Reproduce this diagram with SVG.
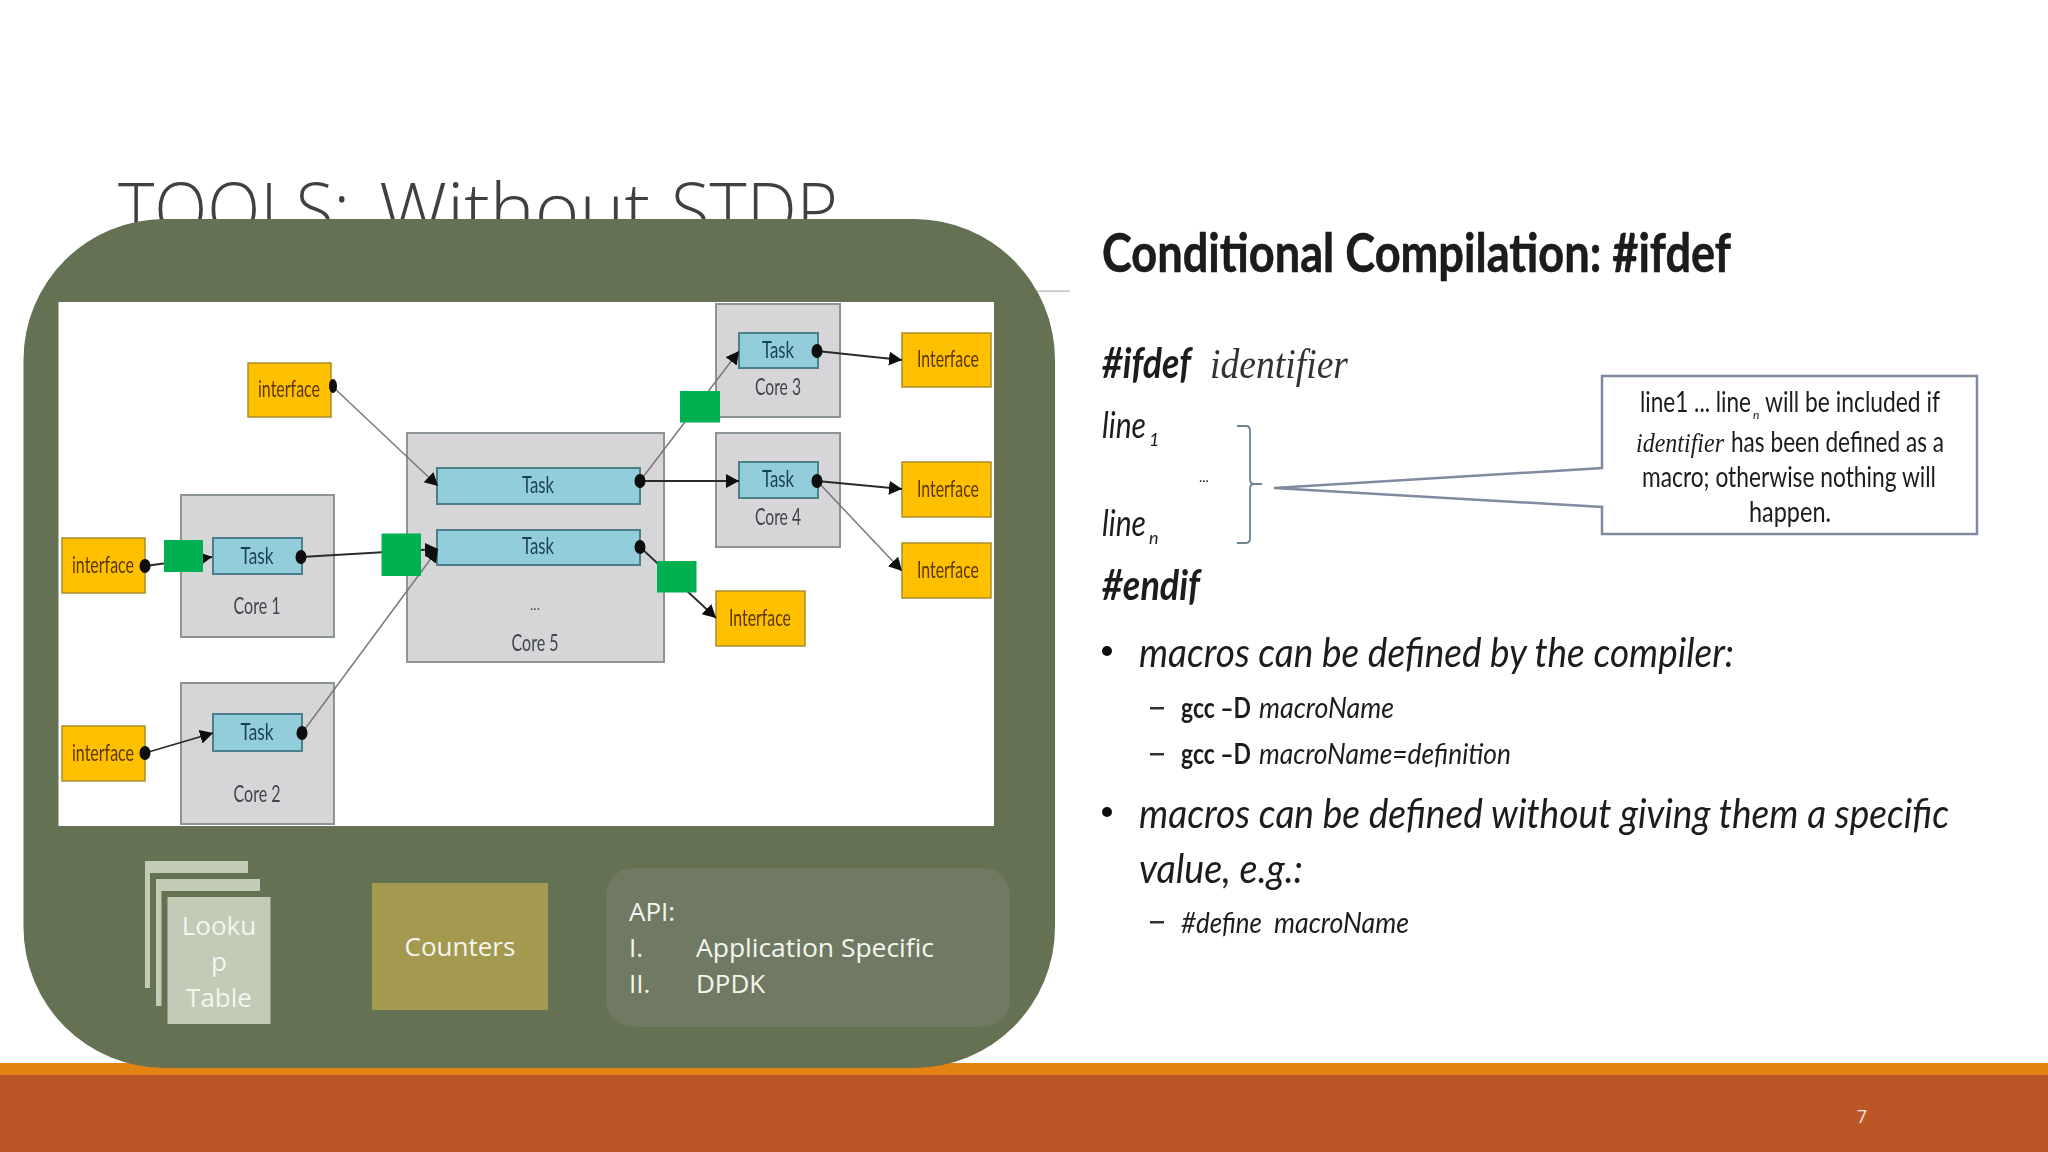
<svg xmlns="http://www.w3.org/2000/svg" width="2048" height="1152" viewBox="0 0 2048 1152">
<style>
.core{fill:#d6d6d8;stroke:#8c9496;stroke-width:2}
.task{fill:#92cddc;stroke:#4d7f8a;stroke-width:2}
.intf{fill:#ffc000;stroke:#a88e2e;stroke-width:1.5}
.green{fill:#00b050}
.d{font-family:"Lato","Liberation Sans",sans-serif;font-size:23px;text-anchor:middle}
.tt{fill:#173f52}.ti{fill:#5a3500}.tc{fill:#404548}
.c1{fill:none;stroke:#2a2a2a;stroke-width:1.8;marker-end:url(#arr)}
.c2{fill:none;stroke:#77797b;stroke-width:1.5;marker-end:url(#arr)}
.dot{fill:#080808}
.card{fill:#c2cbb6;stroke:#657153;stroke-width:12;paint-order:stroke}
.w{font-family:"Open Sans","Noto Sans",sans-serif;font-size:26px;fill:#f4f5ef}
.m{text-anchor:middle}
.r{font-family:"Lato","Liberation Sans",sans-serif;fill:#1b1b1b}
.i{font-style:italic}
.b{font-weight:700}
.s{font-family:"Liberation Serif",serif;font-style:italic}
.t{font-family:"Open Sans","Noto Sans",sans-serif;font-weight:300;font-size:74px;fill:#404040}
</style>
<defs>
<marker id="arr" markerUnits="userSpaceOnUse" markerWidth="16" markerHeight="16" refX="13" refY="7" orient="auto"><path d="M0 0L13 7L0 14Z" fill="#0a0a0a"/></marker>
<filter id="soft" x="-2%" y="-2%" width="104%" height="104%"><feGaussianBlur stdDeviation="0.6"/></filter>
</defs>
<rect width="2048" height="1152" fill="#fff"/>
<g id="title">
<text class="t" x="118" y="236" textLength="232" lengthAdjust="spacingAndGlyphs">TOOLS:</text>
<text class="t" x="379" y="236" textLength="271" lengthAdjust="spacingAndGlyphs">Without</text>
<text class="t" x="671" y="236" textLength="167" lengthAdjust="spacingAndGlyphs">STDP</text>
</g>
<rect x="118" y="290.500" width="952" height="1.200" fill="#b4b4b4"/>
<rect x="0" y="1063" width="2048" height="12" fill="#e48312"/>
<rect x="0" y="1075" width="2048" height="77" fill="#bb5726"/>
<text x="1862" y="1123" text-anchor="middle" font-family="'Open Sans',sans-serif" font-size="18" fill="#f5e9e0">7</text>
<rect id="panel" x="23.500" y="219" width="1031.500" height="849" rx="141" ry="141" fill="#657153"/>
<g id="figure" filter="url(#soft)">
<rect x="58.500" y="302" width="935.500" height="524" fill="#fff"/>
<g id="core1"><rect class="core" x="181" y="495" width="153" height="142"/><rect class="task" x="213" y="538" width="89" height="36"/><text class="d tt" x="257" y="564" textLength="33" lengthAdjust="spacingAndGlyphs">Task</text><text class="d tc" x="257" y="614" textLength="47" lengthAdjust="spacingAndGlyphs">Core 1</text></g>
<g id="core2"><rect class="core" x="181" y="683" width="153" height="141"/><rect class="task" x="213" y="714" width="89" height="37"/><text class="d tt" x="257" y="740" textLength="33" lengthAdjust="spacingAndGlyphs">Task</text><text class="d tc" x="257" y="802" textLength="47" lengthAdjust="spacingAndGlyphs">Core 2</text></g>
<g id="core3"><rect class="core" x="716" y="304" width="124" height="113"/><rect class="task" x="739" y="333" width="79" height="35"/><text class="d tt" x="778" y="358" textLength="32" lengthAdjust="spacingAndGlyphs">Task</text><text class="d tc" x="778" y="395" textLength="46" lengthAdjust="spacingAndGlyphs">Core 3</text></g>
<g id="core4"><rect class="core" x="716" y="433" width="124" height="114"/><rect class="task" x="739" y="462" width="79" height="36"/><text class="d tt" x="778" y="487" textLength="32" lengthAdjust="spacingAndGlyphs">Task</text><text class="d tc" x="778" y="525" textLength="46" lengthAdjust="spacingAndGlyphs">Core 4</text></g>
<g id="core5"><rect class="core" x="407" y="433" width="257" height="229"/><rect class="task" x="437" y="468" width="203" height="36"/><text class="d tt" x="538" y="493" textLength="32" lengthAdjust="spacingAndGlyphs">Task</text><rect class="task" x="437" y="530" width="203" height="35"/><text class="d tt" x="538" y="554" textLength="32" lengthAdjust="spacingAndGlyphs">Task</text><text class="d tc" x="535" y="610" style="font-size:14px">...</text><text class="d tc" x="535" y="651" textLength="47" lengthAdjust="spacingAndGlyphs">Core 5</text></g>
<g id="interface-a"><rect class="intf" x="248" y="363" width="83" height="54"/><text class="d ti" x="289" y="397" textLength="62" lengthAdjust="spacingAndGlyphs">interface</text></g>
<g id="interface-b"><rect class="intf" x="62" y="538" width="83" height="55"/><text class="d ti" x="103" y="573" textLength="62" lengthAdjust="spacingAndGlyphs">interface</text></g>
<g id="interface-c"><rect class="intf" x="62" y="726" width="83" height="55"/><text class="d ti" x="103" y="761" textLength="62" lengthAdjust="spacingAndGlyphs">interface</text></g>
<g id="interface-d"><rect class="intf" x="902" y="333" width="89" height="54"/><text class="d ti" x="948" y="367" textLength="62" lengthAdjust="spacingAndGlyphs">Interface</text></g>
<g id="interface-e"><rect class="intf" x="902" y="462" width="89" height="55"/><text class="d ti" x="948" y="497" textLength="62" lengthAdjust="spacingAndGlyphs">Interface</text></g>
<g id="interface-f"><rect class="intf" x="902" y="543" width="89" height="55"/><text class="d ti" x="948" y="578" textLength="62" lengthAdjust="spacingAndGlyphs">Interface</text></g>
<g id="interface-g"><rect class="intf" x="716" y="591" width="89" height="55"/><text class="d ti" x="760" y="626" textLength="62" lengthAdjust="spacingAndGlyphs">Interface</text></g>
<g id="connectors">
<line class="c2" x1="332" y1="386" x2="438" y2="486"/>
<line class="c1" x1="145" y1="566" x2="212" y2="557"/>
<line class="c1" x1="301" y1="557" x2="438" y2="549"/>
<line class="c2" x1="302" y1="733" x2="438" y2="549"/>
<line class="c1" x1="145" y1="753" x2="213" y2="733"/>
<line class="c2" x1="640" y1="481" x2="739" y2="351"/>
<line class="c1" x1="640" y1="481" x2="739" y2="481"/>
<line class="c1" x1="640" y1="547" x2="716" y2="618"/>
<line class="c1" x1="817" y1="351" x2="902" y2="360"/>
<line class="c1" x1="817" y1="481" x2="902" y2="489"/>
<line class="c2" x1="817" y1="481" x2="902" y2="571"/>
<ellipse class="dot" cx="333" cy="386" rx="4" ry="7"/>
<ellipse class="dot" cx="145" cy="566" rx="5.500" ry="7"/>
<ellipse class="dot" cx="301" cy="557" rx="5.500" ry="7"/>
<ellipse class="dot" cx="302" cy="733" rx="5.500" ry="7"/>
<ellipse class="dot" cx="145" cy="753" rx="5.500" ry="7"/>
<ellipse class="dot" cx="640" cy="481" rx="5.500" ry="7"/>
<ellipse class="dot" cx="640" cy="547" rx="5.500" ry="7"/>
<ellipse class="dot" cx="817" cy="351" rx="5.500" ry="7"/>
<ellipse class="dot" cx="817" cy="481" rx="5.500" ry="7"/>
</g>
</g>
<g id="markers">
<rect class="green" x="164" y="540" width="39" height="32"/>
<rect class="green" x="381.500" y="533.500" width="39.500" height="42.500"/>
<rect class="green" x="680" y="391" width="40" height="31.500"/>
<rect class="green" x="657" y="561" width="39.500" height="31.500"/>
</g>
<g id="lookup">
<rect x="145" y="861" width="103" height="127" fill="#c2cbb6"/>
<rect class="card" x="156" y="879" width="104" height="127"/>
<rect class="card" x="167.500" y="897" width="103" height="127"/>
<text class="w m" x="219" y="935">Looku</text>
<text class="w m" x="219" y="971">p</text>
<text class="w m" x="219" y="1007">Table</text>
</g>
<g id="counters"><rect x="372" y="883" width="176" height="127" fill="#a39a4f"/><text class="w m" x="460" y="956">Counters</text></g>
<g id="api"><rect x="606" y="868" width="404" height="159" rx="27" fill="#707a62"/>
<text class="w" x="629" y="921">API:</text>
<text class="w" x="629" y="957">I.</text><text class="w" x="696" y="957" textLength="238" lengthAdjust="spacingAndGlyphs">Application Specific</text>
<text class="w" x="629" y="993">II.</text><text class="w" x="696" y="993">DPDK</text></g>
<g id="slide-image" filter="url(#soft)">
<text class="r b" x="1102" y="272" font-size="53" textLength="629" lengthAdjust="spacingAndGlyphs" fill="#0a0a0a" stroke="#0a0a0a" stroke-width="0.5">Conditional Compilation: #ifdef</text>
<text class="r b i" x="1102" y="378" font-size="42" textLength="89" lengthAdjust="spacingAndGlyphs">#ifdef</text>
<text class="s" x="1210" y="378" font-size="43" textLength="138" lengthAdjust="spacingAndGlyphs" fill="#333">identifier</text>
<text class="r i" x="1102" y="438" font-size="37" textLength="44" lengthAdjust="spacingAndGlyphs" fill="#333">line</text>
<text class="r i" x="1149" y="446" font-size="18" fill="#333">1</text>
<text class="r i" x="1102" y="536" font-size="37" textLength="44" lengthAdjust="spacingAndGlyphs" fill="#333">line</text>
<text class="r i" x="1149" y="544" font-size="18" fill="#333">n</text>
<text class="r" x="1199" y="482" font-size="14" fill="#666">...</text>
<path d="M1237 426H1246Q1250 426 1250 431V479Q1250 484 1254 484H1262H1254Q1250 484 1250 489V538Q1250 543 1246 543H1237" fill="none" stroke="#6e8391" stroke-width="1.800"/>
<path d="M1602 376H1977V534H1602V507L1274 488L1602 468Z" fill="#fff" stroke="#808ba0" stroke-width="2.500"/>
<g class="r" font-size="28" fill="#2b2b2b">
<text x="1640" y="412" textLength="111" lengthAdjust="spacingAndGlyphs">line1 ... line</text>
<text class="i" x="1753" y="419" font-size="12">n</text>
<text x="1765" y="412" textLength="175" lengthAdjust="spacingAndGlyphs">will be included if</text>
<text class="s" x="1636" y="452" textLength="88" lengthAdjust="spacingAndGlyphs">identifier</text>
<text x="1731" y="452" textLength="213" lengthAdjust="spacingAndGlyphs">has been defined as a</text>
<text x="1642" y="487" textLength="294" lengthAdjust="spacingAndGlyphs">macro; otherwise nothing will</text>
<text x="1749" y="522" textLength="82" lengthAdjust="spacingAndGlyphs">happen.</text>
</g>
<text class="r b i" x="1102" y="600" font-size="42" textLength="98" lengthAdjust="spacingAndGlyphs">#endif</text>
<circle cx="1107" cy="651" r="5" fill="#111"/>
<text class="r i" x="1139" y="667" font-size="40" textLength="595" lengthAdjust="spacingAndGlyphs">macros can be defined by the compiler:</text>
<rect x="1150" y="707" width="14" height="2.500" fill="#333"/>
<text class="r b" x="1181" y="718" font-size="29" textLength="70" lengthAdjust="spacingAndGlyphs">gcc –D</text>
<text class="r i" x="1259" y="718" font-size="29" textLength="135" lengthAdjust="spacingAndGlyphs" fill="#333">macroName</text>
<rect x="1150" y="753" width="14" height="2.500" fill="#333"/>
<text class="r b" x="1181" y="764" font-size="29" textLength="70" lengthAdjust="spacingAndGlyphs">gcc –D</text>
<text class="r i" x="1259" y="764" font-size="29" textLength="252" lengthAdjust="spacingAndGlyphs" fill="#333">macroName=definition</text>
<circle cx="1107" cy="812" r="5" fill="#111"/>
<text class="r i" x="1139" y="828" font-size="40" textLength="810" lengthAdjust="spacingAndGlyphs">macros can be defined without giving them a specific</text>
<text class="r i" x="1139" y="883" font-size="40" textLength="164" lengthAdjust="spacingAndGlyphs">value, e.g.:</text>
<rect x="1150" y="921" width="14" height="2.500" fill="#333"/>
<text class="r i" x="1181" y="933" font-size="29" textLength="81" lengthAdjust="spacingAndGlyphs" fill="#222">#define</text>
<text class="r i" x="1274" y="933" font-size="29" textLength="135" lengthAdjust="spacingAndGlyphs" fill="#222">macroName</text>
</g>
</svg>
